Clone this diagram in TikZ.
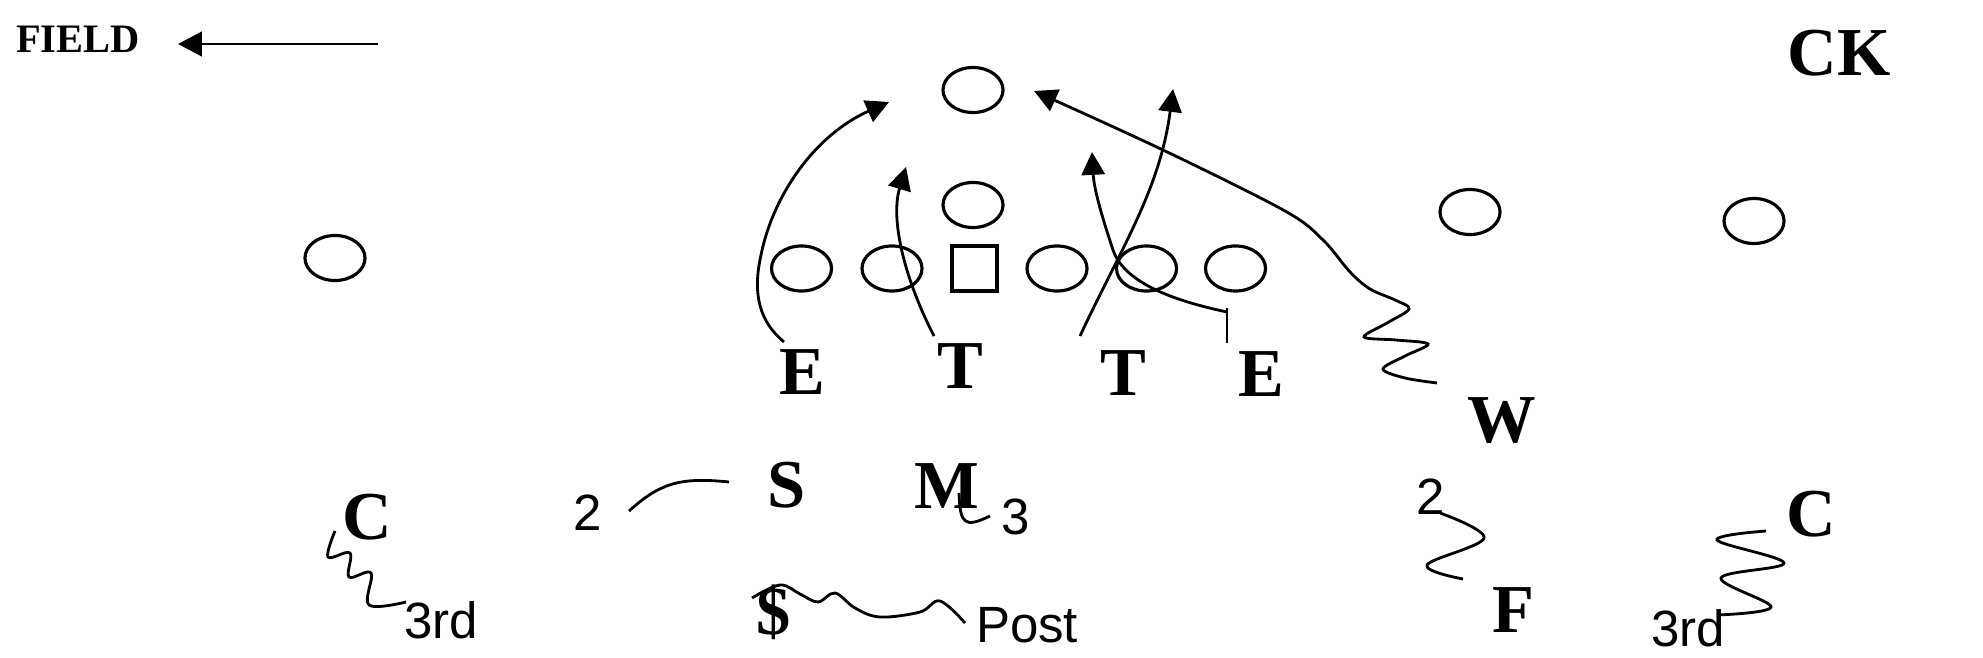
\documentclass[tikz,border=0pt]{standalone}
\usepackage{fontspec}
\setmainfont{Liberation Serif}
\newfontfamily\arial{Liberation Sans}
\usetikzlibrary{arrows.meta,shapes.geometric}

\begin{document}
\begin{tikzpicture}[x=0.01cm,y=-0.01cm]
	\tikzstyle{fleche}=[-{Triangle[length=6.5pt,width=6.6pt]},line width=0.8pt]
	\tikzstyle{trace}=[line width=0.8pt]
	\tikzstyle{ovale}=[draw,ellipse,line width=0.9pt,minimum width=0.6cm,minimum height=0.45cm,inner sep=0pt]
	\tikzstyle{centre}=[draw,rectangle,line width=0.9pt,minimum size=0.45cm,inner sep=0pt]
	\tikzstyle{lettre}=[font=\fontsize{19.5}{20}\selectfont\bfseries,inner sep=0pt]
	\tikzstyle{chiffre}=[font=\arial\fontsize{14.5}{15}\selectfont,inner sep=0pt]
	\tikzstyle{titre}=[font=\fontsize{11.5}{12}\selectfont\bfseries,inner sep=0pt]
	\useasboundingbox (0,0) rectangle (1983,658);
	\node[titre] (Field) at (78,39) {FIELD};
	\coordinate (FieldA) at (378,44);
	\coordinate (FieldB) at (178,44);
	\draw[-{Triangle[length=6.8pt,width=7pt]},line width=0.7pt] (FieldA)--(FieldB);
	\node[lettre] (CK) at (1839,53) {CK};
	\node[ovale] (Oa) at (973,90) {};
	\node[ovale] (Ob) at (973,205) {};
	\node[ovale] (La) at (801.5,268.5) {};
	\node[ovale] (Lb) at (892,268.5) {};
	\node[centre] (Lc) at (974.5,268.5) {};
	\node[ovale] (Ld) at (1057,268.5) {};
	\node[ovale] (Le) at (1146.5,268.5) {};
	\node[ovale] (Lf) at (1235.5,268.5) {};
	\node[ovale] (Og) at (335,258) {};
	\node[ovale] (Oc) at (1470,212) {};
	\node[ovale] (Od) at (1754,221) {};
	\node[lettre] (Ea) at (802,372.5) {E};
	\node[lettre] (Ta) at (960,366) {T};
	\node[lettre] (Tb) at (1123,373.5) {T};
	\node[lettre] (Eb) at (1261,374) {E};
	\node[lettre] (W) at (1502,421) {W};
	\node[lettre] (S) at (786.5,485) {S};
	\node[lettre] (M) at (947,486) {M};
	\node[lettre] (Dol) at (774,612) {\$};
	\node[lettre] (Cg) at (367,517) {C};
	\node[lettre] (F) at (1513,610) {F};
	\node[lettre] (Cd) at (1811,514) {C};
	\node[chiffre] (Ng) at (588,513) {2};
	\node[chiffre] (Nm) at (1016,517) {3};
	\node[chiffre] (Nd) at (1431,497) {2};
	\node[chiffre] (Rg) at (441,620) {3rd};
	\node[chiffre] (Rd) at (1688,628) {3rd};
	\node[chiffre] (Post) at (1027,625) {Post};
	\coordinate (dEa) at (784,342);
	\coordinate (fEa) at (889,102);
	\coordinate (dTa) at (934,336);
	\coordinate (fTa) at (906,167);
	\coordinate (dTb) at (1080,336);
	\coordinate (fTb) at (1173,89);
	\coordinate (dEb) at (1227,343);
	\coordinate (bEb) at (1227,308);
	\coordinate (cEb) at (1227,312);
	\coordinate (fEb) at (1092,152);
	\coordinate (dW) at (1437,383);
	\coordinate (fW) at (1034,91);
	\draw[fleche] (dEa) .. controls (760,322) and (752,295) .. (761,255) .. controls (773,195) and (815,135) .. (fEa);
	\draw[fleche] (dTa) .. controls (905,280) and (890,220) .. (fTa);
	\draw[fleche] (dTb) .. controls (1120,250) and (1160,190) .. (fTb);
	\draw[trace] (dEb)--(bEb);
	\draw[fleche] (cEb) .. controls (1180,302) and (1125,285) .. (1113,250) .. controls (1103,220) and (1094,190) .. (fEb);
	\draw[fleche] plot[smooth,tension=0.55] coordinates {(dW) (1405,378) (1383,369) (1405,356) (1428,344) (1396,340) (1364,337) (1387,323) (1409,309) (1395,300) (1370,289) (1350,272) (1323,240) (1285,211) (1163,150) (fW)};
	\coordinate (dCg) at (335,531);
	\coordinate (fCg) at (406,602);
	\draw[trace] plot[smooth,tension=0.6] coordinates {(dCg) (328,557) (350,553) (349,577) (371,573) (369,605) (fCg)};
	\coordinate (dNg) at (629,511);
	\coordinate (fNg) at (729,482);
	\draw[trace] (dNg) .. controls (660,483) and (680,477) .. (fNg);
	\coordinate (dM) at (959,493);
	\coordinate (fM) at (990,516);
	\draw[trace] (dM) .. controls (960,525) and (965,528) .. (fM);
	\coordinate (dDol) at (752,598);
	\coordinate (fDol) at (965,623);
	\draw[trace] plot[smooth,tension=0.6] coordinates {(dDol) (780,585) (800,594) (818,602) (835,593) (855,608) (880,617) (920,612) (940,601) (fDol)};
	\coordinate (dNd) at (1440,513);
	\coordinate (fNd) at (1463,579);
	\draw[trace] plot[smooth,tension=0.6] coordinates {(dNd) (1484,538) (1427,565) (fNd)};
	\coordinate (dCd) at (1766,531);
	\coordinate (fCd) at (1717,615);
	\draw[trace] plot[smooth,tension=0.6] coordinates {(dCd) (1717,540) (1784,563) (1721,578) (1771,607) (fCd)};
\end{tikzpicture}
\end{document}
